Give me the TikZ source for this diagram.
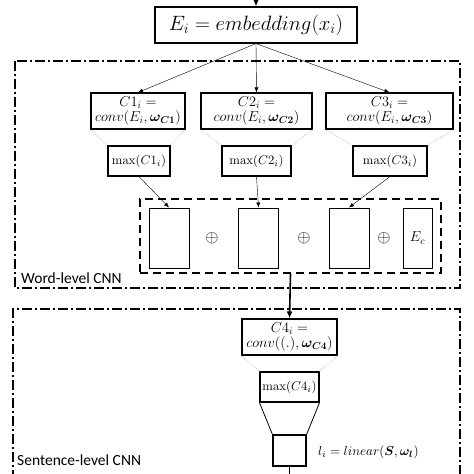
\RequirePackage{fix-cm}
\documentclass[tikz,border=0pt]{standalone}
\usepackage{amsmath}
\usepackage{bm}
\usepackage{graphicx}
\usepackage{fontspec}
\newfontfamily\labelfont{Carlito}
\usetikzlibrary{arrows.meta}

\newcommand{\maxlbl}[1]{\scalebox{1.27}{$\max(#1)$}}

\tikzset{
  box/.style={rectangle, draw, line width=1.1pt, minimum height=36pt, align=center, inner sep=1pt, font=\fontsize{14.4}{15}\selectfont},
  maxbox/.style={rectangle, draw, line width=1.1pt, minimum height=30pt, inner sep=1pt},
  vecbox/.style={rectangle, draw, line width=1pt, minimum width=40pt, minimum height=60pt, inner sep=0pt},
  pool/.style={densely dotted, gray, thin},
  arr/.style={-{Latex[length=5pt,width=4pt]}, thin},
  layer/.style={line width=1.1pt, dash pattern=on 10pt off 3pt on 2pt off 3pt},
  layerlbl/.style={anchor=base west, font=\labelfont\fontsize{15.5}{18}\selectfont, inner sep=0pt},
}

\begin{document}
\begin{tikzpicture}[x=1pt, y=-1pt]
    \useasboundingbox (0,0) rectangle (474,474);
    \clip (0,0) rectangle (474,474);

    % Layer frames
    \draw[layer] (15,61) rectangle (460,288);
    \node[layerlbl] (wordlbl) at (21,283) {Word-level CNN};
    \draw[layer] (13,480) -- (13,309) -- (460,309) -- (460,480);
    \node[layerlbl] (sentlbl) at (17,465) {Sentence-level CNN};

    % Embedding
    \coordinate (input) at (256,-5);
    \node[box, minimum width=202pt, font=\fontsize{20.74}{22}\selectfont] (EMB) at (256,25) {$E_i = embedding(x_i)$};

    % Convolutions
    \node[box, minimum width=94pt] (C1) at (138,111) {$C1_i =$\\$conv(E_i,\bm{\omega}_{\bm{C1}})$};
    \node[box, minimum width=111pt] (C2) at (256.5,111) {$C2_i =$\\$conv(E_i,\bm{\omega}_{\bm{C2}})$};
    \node[box, minimum width=127pt] (C3) at (389.5,111) {$C3_i =$\\$conv(E_i,\bm{\omega}_{\bm{C3}})$};

    % Max pooling
    \node[maxbox, minimum width=62pt] (MAX1) at (139,161) {\maxlbl{C1_i}};
    \node[maxbox, minimum width=69pt] (MAX2) at (256.5,161) {\maxlbl{C2_i}};
    \node[maxbox, minimum width=74pt] (MAX3) at (390,161) {\maxlbl{C3_i}};

    % Concatenation
    \node[rectangle, draw, line width=1.1pt, dash pattern=on 8pt off 5pt, minimum width=301pt, minimum height=74pt] (CAT) at (290.5,236) {};
    \node[vecbox] (V1) at (169,238) {};
    \node[vecbox] (V2) at (258.5,238) {};
    \node[vecbox] (V3) at (349,238) {};
    \node[vecbox, minimum width=29pt, font=\fontsize{14.4}{16}\selectfont] (EC) at (417.5,238) {$E_c$};
    \foreach \x/\n in {212/1, 304/2, 384/3} {
        \node[inner sep=0pt] (OP\n) at (\x,238) {\scalebox{1.7}{$\oplus$}};
    }

    % Sentence level
    \node[box, minimum width=95pt] (C4) at (289.5,337) {$C4_i =$\\$conv((.),\bm{\omega}_{\bm{C4}})$};
    \node[maxbox, minimum width=59pt] (MAX4) at (289.5,387) {\maxlbl{C4_i}};
    \node[rectangle, draw, line width=1.1pt, minimum width=33pt, minimum height=31pt] (LIN) at (289.5,450.5) {};
    \node[anchor=west, inner sep=0pt] (LINLBL) at (318,452) {\scalebox{1.3}{$l_i = linear(\bm{S},\bm{\omega_l})$}};
    \coordinate (output) at (289.5,480);

    % Connections
    \draw[-{Latex[length=7pt,width=6pt]}, line width=1.6pt] (input) -- (EMB.north);
    \draw[arr] (EMB.south) -- (C1.north);
    \draw[arr] (EMB.south) -- (C2.north);
    \draw[arr] (EMB.south) -- (C3.north);

    \foreach \i in {1,2,3,4} {
        \draw[pool] (C\i.south west) -- (MAX\i.north west);
        \draw[pool] (C\i.south east) -- (MAX\i.north east);
    }

    \draw[arr] (MAX1.south) -- (V1.north);
    \draw[arr] (MAX2.south) -- (V2.north);
    \draw[arr] (MAX3.south) -- (V3.north);

    \draw[-{Latex[length=7pt,width=6pt]}, line width=1.6pt] (CAT.south) -- (C4.north);
    \draw[thick] (MAX4.south west) -- (LIN.north west);
    \draw[thick] (MAX4.south east) -- (LIN.north east);
    \draw[line width=1.6pt] (LIN.south) -- (output);
\end{tikzpicture}
\end{document}
